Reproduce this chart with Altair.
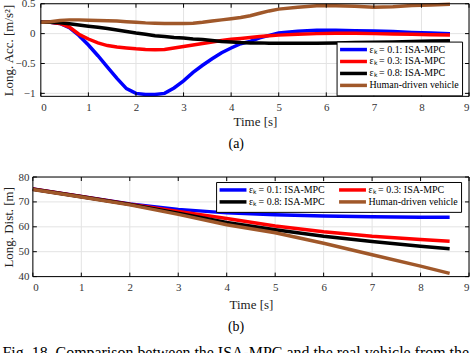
import altair as alt
import pandas as pd

# ---------------- data ----------------
names = ["εₖ = 0.1: ISA-MPC", "εₖ = 0.3: ISA-MPC", "εₖ = 0.8: ISA-MPC", "Human-driven vehicle"]
colors = ["#0000ff", "#ff0000", "#000000", "#a0582a"]

t_acc = [0, 0.2, 0.4, 0.6, 0.8, 1.0, 1.2, 1.4, 1.6, 1.8, 2.0, 2.2, 2.4, 2.6, 2.8, 3.0,
         3.2, 3.4, 3.6, 3.8, 4.0, 4.2, 4.4, 4.6, 4.8, 5.0, 5.4, 5.8, 6.2, 6.6, 7.0, 7.4,
         7.8, 8.2, 8.6]
acc_01 = [0.19, 0.19, 0.17, 0.10, -0.03, -0.19, -0.37, -0.56, -0.75, -0.92, -1.0, -1.02,
          -1.02, -1.0, -0.91, -0.79, -0.65, -0.53, -0.42, -0.32, -0.24, -0.17, -0.13,
          -0.07, -0.03, 0.01, 0.04, 0.055, 0.055, 0.05, 0.045, 0.035, 0.02, 0.01, 0.0]
acc_03 = [0.19, 0.19, 0.17, 0.11, -0.01, -0.09, -0.155, -0.20, -0.225, -0.24, -0.255,
          -0.265, -0.27, -0.265, -0.24, -0.215, -0.19, -0.165, -0.14, -0.115, -0.095,
          -0.08, -0.065, -0.05, -0.035, -0.025, -0.01, 0.0, 0.005, 0.005, 0.0, -0.005,
          -0.01, -0.02, -0.025]
acc_08 = [0.19, 0.19, 0.18, 0.165, 0.145, 0.125, 0.105, 0.085, 0.06, 0.035, 0.01, -0.01,
          -0.035, -0.05, -0.065, -0.075, -0.09, -0.1, -0.115, -0.13, -0.14, -0.15, -0.155,
          -0.155, -0.16, -0.16, -0.16, -0.16, -0.155, -0.15, -0.145, -0.14, -0.13, -0.125,
          -0.12]
acc_hum = [0.19, 0.2, 0.22, 0.23, 0.23, 0.225, 0.22, 0.215, 0.21, 0.2, 0.19, 0.18, 0.175,
           0.17, 0.17, 0.17, 0.175, 0.19, 0.21, 0.23, 0.25, 0.27, 0.30, 0.34, 0.38, 0.41,
           0.44, 0.465, 0.465, 0.46, 0.44, 0.45, 0.47, 0.48, 0.49]

t_dist = [0, 1, 2, 3, 4, 5, 6, 7, 8, 8.6]
dist_01 = [75.2, 72.2, 69.2, 67.0, 65.6, 64.8, 64.3, 64.0, 63.8, 63.8]
dist_03 = [75.2, 72.2, 69.1, 66.2, 63.3, 60.3, 58.0, 56.2, 54.9, 54.2]
dist_08 = [75.1, 72.1, 69.0, 65.5, 61.7, 58.8, 56.2, 54.1, 52.2, 51.2]
dist_hum = [75.0, 72.0, 68.8, 65.0, 60.8, 57.6, 53.4, 48.8, 44.2, 41.3]

x_ticks = [0, 1, 2, 3, 4, 5, 6, 7, 8, 9]
acc_ticks = [-1, -0.5, 0, 0.5]
dist_ticks = [40, 50, 60, 70, 80]

caption = "Fig. 18.  Comparison between the ISA-MPC and the real vehicle from the"

SERIF = "Liberation Serif"
FULL_W = 438  # width of the shared panel frame


def long_df(t, series):
    rows = []
    for name, vals in zip(names, series):
        for tt, v in zip(t, vals):
            rows.append({"t": tt, "v": v, "s": name})
    return pd.DataFrame(rows)


df_a = long_df(t_acc, [acc_01, acc_03, acc_08, acc_hum])
df_b = long_df(t_dist, [dist_01, dist_03, dist_08, dist_hum])


def panel(df, x0, H, ydom, yticks, ytitle, title_x, lab_pad, title_pad, legend, dom, rng, sub):
    x1 = FULL_W
    x_enc = alt.X("t:Q", scale=alt.Scale(domain=[0, 9], nice=False, range=[x0, x1]),
                  axis=alt.Axis(values=x_ticks, title="Time [s]", labelPadding=5,
                                titlePadding=title_pad, format="d", titleX=(x0 + x1) / 2))
    y_axis = dict(values=yticks, title=ytitle, labelPadding=lab_pad,
                  titleX=title_x, titleBaseline="middle", format="~r")
    if x0:
        y_axis["offset"] = -x0
    y_enc = alt.Y("v:Q", scale=alt.Scale(domain=ydom, nice=False), axis=alt.Axis(**y_axis))

    one = pd.DataFrame({"k": [0]})
    xg = alt.Chart(pd.DataFrame({"t": x_ticks})).mark_rule(color="#e3e3e3", strokeWidth=1)
    yg = alt.Chart(pd.DataFrame({"v": yticks})).mark_rule(color="#e3e3e3", strokeWidth=1)
    grid_x = xg.encode(x=x_enc, y=alt.value(0), y2=alt.value(H))
    grid_y = yg.encode(y=y_enc, x=alt.value(x0), x2=alt.value(x1))

    lines = alt.Chart(df).mark_line(strokeWidth=3.5).encode(
        x=x_enc, y=y_enc,
        color=alt.Color("s:N", scale=alt.Scale(domain=dom, range=rng), legend=legend),
    )
    border = alt.Chart(one).mark_rect(filled=False, stroke="black", strokeWidth=1).encode(
        x=alt.value(x0), x2=alt.value(x1), y=alt.value(0), y2=alt.value(H))

    xt = alt.Chart(pd.DataFrame({"t": x_ticks})).mark_rule(color="black", strokeWidth=1)
    yt = alt.Chart(pd.DataFrame({"v": yticks})).mark_rule(color="black", strokeWidth=1)
    tx_top = xt.encode(x=x_enc, y=alt.value(0), y2=alt.value(4))
    tx_bot = xt.encode(x=x_enc, y=alt.value(H), y2=alt.value(H - 4))
    ty_l = yt.encode(y=y_enc, x=alt.value(x0), x2=alt.value(x0 + 4))
    ty_r = yt.encode(y=y_enc, x=alt.value(x1 - 4), x2=alt.value(x1))
    return alt.layer(grid_x, grid_y, lines, border, tx_top, tx_bot, ty_l, ty_r).properties(
        width=FULL_W, height=H,
        title=alt.TitleParams(sub, orient="bottom", anchor="middle", frame="bounds",
                              font=SERIF, fontSize=14, fontWeight="normal",
                              color="black", offset=9),
    )


leg_common = dict(
    title=None, orient="none", symbolType="M-4.5,0L4.5,0", symbolSize=36,
    symbolStrokeWidth=3.5, symbolOffset=9, labelOffset=11, labelFont=SERIF,
    labelFontSize=10, labelColor="black", strokeColor="black", fillColor="white",
    padding=3, rowPadding=-2,
)

leg_a = alt.Legend(legendX=305, legendY=38, **leg_common)
leg_b = alt.Legend(legendX=184, legendY=5, columns=2, columnPadding=6, **leg_common)

dom_b = [names[0], names[2], names[1], names[3]]
rng_b = [colors[0], colors[2], colors[1], colors[3]]

pa = panel(df_a, 8, 93, [-1.05, 0.5], acc_ticks, "Long. Acc. [m/s²]", -32, 6, 3,
           leg_a, names, colors, "(a)")
pb = panel(df_b, 0, 100, [40, 80], dist_ticks, "Long. Dist. [m]", -24.5, 4, 6,
           leg_b, dom_b, rng_b, "(b)")

chart = alt.vconcat(pa, pb, spacing=20).resolve_scale(color="independent").properties(
    padding={"left": 2, "top": -4, "right": 0, "bottom": 0},
    background="white",
    title=alt.TitleParams(caption, orient="bottom", anchor="start", frame="bounds",
                          font=SERIF, fontSize=16, fontWeight="normal", color="black",
                          offset=11),
).configure_view(strokeWidth=0).configure_axis(
    domain=False, ticks=False, grid=False,
    labelFont=SERIF, labelFontSize=11, labelColor="#333333",
    titleFont=SERIF, titleFontSize=13, titleFontWeight="normal", titleColor="#222222",
)

chart.save("out.html", embed_options={"renderer": "svg", "actions": False})
